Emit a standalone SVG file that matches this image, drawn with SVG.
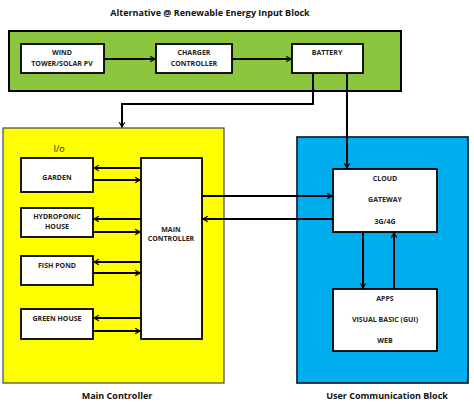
<svg xmlns="http://www.w3.org/2000/svg" width="474" height="404" viewBox="0 0 474 404">
<style>
.box{fill:#fff;stroke:#000;stroke-width:1.8}
.t{font-family:"Open Sans","Liberation Sans",sans-serif;font-size:7px;font-weight:bold;fill:#222;text-anchor:middle}
.lbl{font-family:"Open Sans","Liberation Sans",sans-serif;font-size:9px;font-weight:bold;fill:#111;text-anchor:middle}
.c{fill:none;stroke:#000;stroke-width:2;marker-end:url(#ah)}
</style>
<defs>
<marker id="ah" viewBox="0 0 10 10" refX="9" refY="5" markerWidth="6" markerHeight="6" orient="auto" markerUnits="userSpaceOnUse" overflow="visible">
<polyline points="1,0.5 9,5 1,9.5" fill="none" stroke="#000" stroke-width="2"/>
</marker>
</defs>
<rect width="474" height="404" fill="#fff"/>
<g id="renewable-block">
<rect x="9" y="31" width="392" height="60" fill="#8cc63f" stroke="#000" stroke-width="2"/>
<text class="lbl" x="210" y="16">Alternative @ Renewable Energy Input Block</text>
</g>
<g id="main-block">
<rect x="3" y="128" width="221" height="255" fill="#ffff00" stroke="#3a4a5a" stroke-width="1.2"/>
<text class="lbl" x="117" y="399">Main Controller</text>
<text class="t" x="59" y="152" style="font-weight:normal;font-size:9px">I/o</text>
</g>
<g id="user-block">
<rect x="297" y="137" width="171" height="246" fill="#00aeef" stroke="#1a2a3a" stroke-width="1.8"/>
<text class="lbl" x="387" y="399">User Communication Block</text>
</g>
<g id="wind">
<rect class="box" x="21" y="44" width="83" height="29"/>
<text class="t" x="62" y="55">WIND</text>
<text class="t" x="62" y="66">TOWER/SOLAR PV</text>
</g>
<g id="charger">
<rect class="box" x="156" y="44" width="76" height="29"/>
<text class="t" x="194" y="55">CHARGER</text>
<text class="t" x="194" y="66">CONTROLLER</text>
</g>
<g id="battery">
<rect class="box" x="292" y="44" width="71" height="29"/>
<text class="t" x="327" y="55">BATTERY</text>
</g>
<g id="garden">
<rect class="box" x="21" y="158" width="72" height="34"/>
<text class="t" x="57" y="180">GARDEN</text>
</g>
<g id="hydroponic">
<rect class="box" x="21" y="208" width="72" height="29"/>
<text class="t" x="57" y="219">HYDROPONIC</text>
<text class="t" x="57" y="229">HOUSE</text>
</g>
<g id="fishpond">
<rect class="box" x="21" y="256" width="72" height="29"/>
<text class="t" x="57" y="268">FISH POND</text>
</g>
<g id="greenhouse">
<rect class="box" x="21" y="309" width="72" height="30"/>
<text class="t" x="57" y="321">GREEN HOUSE</text>
</g>
<g id="main-controller">
<rect class="box" x="141" y="158" width="61" height="181"/>
<text class="t" x="171" y="232">MAIN</text>
<text class="t" x="171" y="241">CONTROLLER</text>
</g>
<g id="cloud">
<rect class="box" x="333" y="169" width="104" height="63"/>
<text class="t" x="385" y="181">CLOUD</text>
<text class="t" x="385" y="202">GATEWAY</text>
<text class="t" x="385" y="224">3G/4G</text>
</g>
<g id="apps">
<rect class="box" x="333" y="289" width="104" height="62"/>
<text class="t" x="385" y="301">APPS</text>
<text class="t" x="385" y="322">VISUAL BASIC (GUI)</text>
<text class="t" x="385" y="343">WEB</text>
</g>
<g id="connectors">
<line class="c" x1="104" y1="59" x2="155" y2="59"/>
<line class="c" x1="232" y1="59" x2="291" y2="59"/>
<polyline class="c" points="313,73 313,104 122,104 122,127"/>
<line class="c" x1="347" y1="73" x2="347" y2="168"/>
<line class="c" x1="141" y1="168" x2="94" y2="168"/>
<line class="c" x1="93" y1="180" x2="140" y2="180"/>
<line class="c" x1="141" y1="219" x2="94" y2="219"/>
<line class="c" x1="93" y1="232" x2="140" y2="232"/>
<line class="c" x1="141" y1="262" x2="94" y2="262"/>
<line class="c" x1="93" y1="273" x2="140" y2="273"/>
<line class="c" x1="141" y1="318" x2="94" y2="318"/>
<line class="c" x1="93" y1="331" x2="140" y2="331"/>
<line class="c" x1="202" y1="196" x2="332" y2="196"/>
<line class="c" x1="333" y1="219" x2="203" y2="219"/>
<line class="c" x1="363" y1="232" x2="363" y2="288"/>
<line class="c" x1="394" y1="289" x2="394" y2="233"/>
</g>
</svg>
